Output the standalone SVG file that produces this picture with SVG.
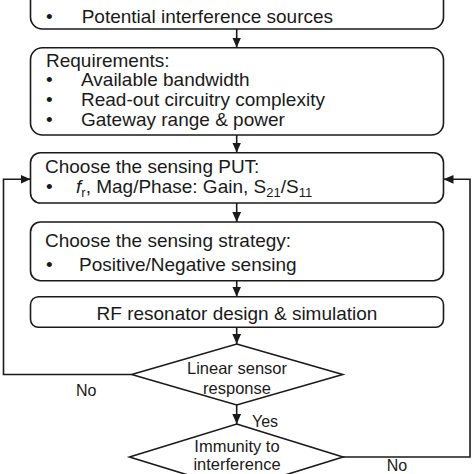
<svg xmlns="http://www.w3.org/2000/svg" width="474" height="474" viewBox="0 0 474 474">
<style>
.box{fill:#fff;stroke:#1a1a1a;stroke-width:1.6}
.t{font-family:"Liberation Sans",Arial,sans-serif;font-size:19px;fill:#1a1a1a}
.d{font-family:"Liberation Sans",Arial,sans-serif;font-size:16.5px;fill:#1a1a1a;text-anchor:middle}
.l{font-family:"Liberation Sans",Arial,sans-serif;font-size:16px;fill:#1a1a1a}
.c{fill:none;stroke:#1a1a1a;stroke-width:1.6}
</style>
<defs>
<marker id="ah" markerUnits="userSpaceOnUse" markerWidth="10" markerHeight="10" viewBox="0 0 10 10" refX="10" refY="5" orient="auto">
<path d="M0,0.6 L10,5 L0,9.4 Z" fill="#1a1a1a"/>
</marker>
</defs>
<rect width="474" height="474" fill="#fff"/>
<g id="connectors">
<line class="c" x1="236.7" y1="29" x2="236.7" y2="47.5" marker-end="url(#ah)"/>
<line class="c" x1="236.7" y1="135" x2="236.7" y2="152.5" marker-end="url(#ah)"/>
<line class="c" x1="236.7" y1="203" x2="236.7" y2="222" marker-end="url(#ah)"/>
<line class="c" x1="236.7" y1="280.7" x2="236.7" y2="296.7" marker-end="url(#ah)"/>
<line class="c" x1="236.7" y1="327.3" x2="236.7" y2="344" marker-end="url(#ah)"/>
<line class="c" x1="236.7" y1="405" x2="236.7" y2="424" marker-end="url(#ah)"/>
<polyline class="c" points="131.7,374.5 3.5,374.5 3.5,179.3 30.5,179.3" marker-end="url(#ah)"/>
<polyline class="c" points="343,457 470,457 470,179.3 443.5,179.3" marker-end="url(#ah)"/>
<text class="l" x="76" y="396">No</text>
<text class="l" x="252" y="426.7">Yes</text>
<text class="l" x="386.7" y="470.5">No</text>
</g>
<g id="node-context">
<rect class="box" x="30.5" y="-40" width="413" height="69" rx="12"/>
<text class="t" x="46" y="23">•</text>
<text class="t" x="81.7" y="23">Potential interference sources</text>
</g>
<g id="node-requirements">
<rect class="box" x="30.5" y="47.7" width="413" height="87.3" rx="12"/>
<text class="t" x="46" y="66.5">Requirements:</text>
<text class="t" x="46" y="86">•</text>
<text class="t" x="81" y="86">Available bandwidth</text>
<text class="t" x="46" y="106">•</text>
<text class="t" x="81" y="106">Read-out circuitry complexity</text>
<text class="t" x="46" y="125.5">•</text>
<text class="t" x="81" y="125.5">Gateway range &amp; power</text>
</g>
<g id="node-put">
<rect class="box" x="30.5" y="152.7" width="413" height="50.3" rx="10"/>
<text class="t" x="45" y="173">Choose the sensing PUT:</text>
<text class="t" x="46" y="193">•</text>
<text class="t" x="76" y="193"><tspan font-style="italic">f</tspan><tspan font-size="13" dy="4">r</tspan><tspan dy="-4">, Mag/Phase: Gain, S</tspan><tspan font-size="13" dy="4">21</tspan><tspan dy="-4">/S</tspan><tspan font-size="13" dy="4">11</tspan></text>
</g>
<g id="node-strategy">
<rect class="box" x="30.5" y="222" width="413" height="58.7" rx="10"/>
<text class="t" x="45" y="247">Choose the sensing strategy:</text>
<text class="t" x="46" y="271">•</text>
<text class="t" x="79" y="271">Positive/Negative sensing</text>
</g>
<g id="node-design">
<rect class="box" x="30.5" y="296.7" width="413" height="30.6" rx="8"/>
<text class="t" x="237" y="320" text-anchor="middle">RF resonator design &amp; simulation</text>
</g>
<g id="node-linear">
<polygon class="box" points="236.7,344 342.7,374.5 236.7,405 131.7,374.5"/>
<text class="d" x="237" y="374.3">Linear sensor</text>
<text class="d" x="237" y="394.3">response</text>
</g>
<g id="node-immunity">
<polygon class="box" points="236.7,424 343,457 236.7,490 129.5,457"/>
<text class="d" x="237" y="452">Immunity to</text>
<text class="d" x="237" y="469.5">interference</text>
</g>
</svg>
